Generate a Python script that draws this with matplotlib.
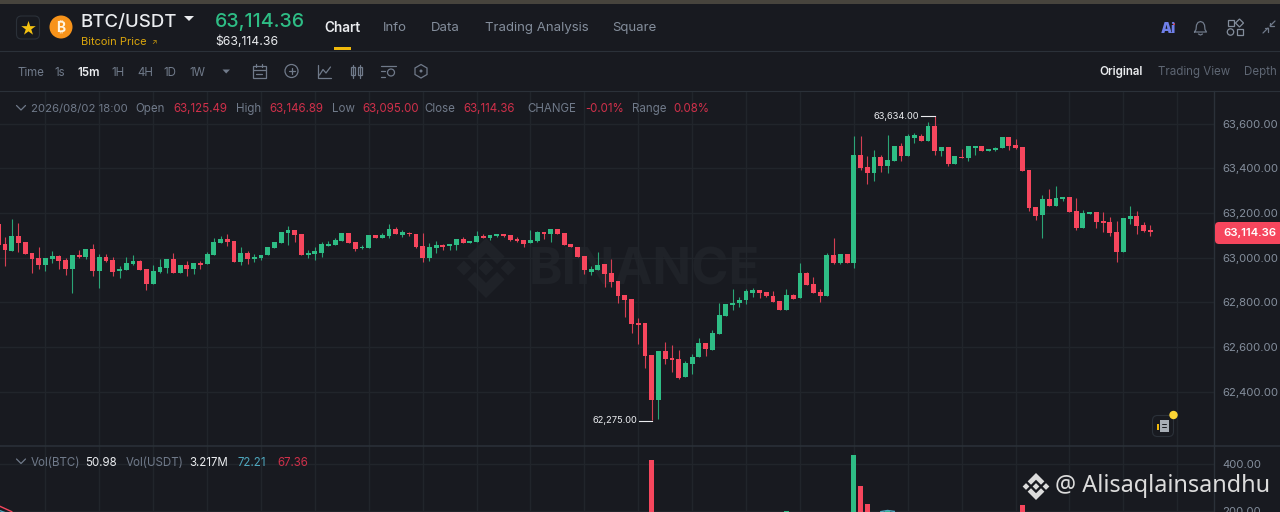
import matplotlib
matplotlib.use("Agg")
import matplotlib.pyplot as plt
import numpy as np
from matplotlib.patches import Circle, FancyBboxPatch, Polygon, Rectangle

plt.rcParams['font.family'] = ['Inter', 'DejaVu Sans']

# 15m candles, first one sits just off the left edge
opens = [63149, 63061, 63032, 63097, 63069, 63023, 63000, 62966, 62996, 63006,
         62991, 62948, 63011, 63003, 63037, 62942, 63002, 62988, 62939, 62945,
         62972, 62984, 62950, 62882, 62936, 62954, 62994, 62933, 62966, 62950,
         62975, 62970, 63014, 63064, 63084, 63075, 62982, 63020, 62994, 63000,
         63011, 63045, 63064, 63111, 63123, 63106, 63014, 63015, 63022, 63052,
         63057, 63076, 63110, 63069, 63042, 63045, 63100, 63087, 63097, 63127,
         63102, 63112, 63107, 63052, 63000, 63042, 63058, 63054, 63058, 63082,
         63067, 63072, 63099, 63088, 63096, 63105, 63103, 63084, 63079, 63064,
         63073, 63113, 63106, 63127, 63109, 63060, 63049, 63006, 62938, 62943,
         62970, 62933, 62897, 62833, 62817, 62706, 62706, 62565, 62363, 62581,
         62550, 62548, 62466, 62523, 62554, 62617, 62588, 62657, 62738, 62790,
         62796, 62809, 62844, 62854, 62848, 62830, 62806, 62766, 62835, 62818,
         62930, 62884, 62847, 62829, 63012, 62978, 63015, 62978, 63460, 63406,
         63380, 63452, 63410, 63433, 63498, 63456, 63537, 63546, 63522, 63591,
         63479, 63494, 63418, 63452, 63445, 63489, 63498, 63479, 63483, 63489,
         63539, 63506, 63494, 63391, 63228, 63190, 63263, 63231, 63264, 63273,
         63209, 63134, 63195, 63204, 63163, 63160, 63115, 63027, 63173, 63185,
         63146, 63125.49]
highs = [63170, 63094, 63175, 63157, 63069, 63023, 63049, 63000, 63032, 63011,
         63000, 63011, 63035, 63039, 63060, 63017, 63017, 63005, 62963, 63002,
         63011, 62990, 62950, 62969, 62996, 62994, 63023, 62966, 62987, 62975,
         62987, 63026, 63087, 63097, 63106, 63075, 63048, 63030, 63015, 63012,
         63049, 63069, 63115, 63140, 63123, 63106, 63036, 63046, 63072, 63075,
         63087, 63110, 63110, 63069, 63057, 63100, 63100, 63109, 63149, 63139,
         63124, 63113, 63107, 63109, 63064, 63075, 63061, 63061, 63082, 63091,
         63075, 63118, 63106, 63100, 63105, 63105, 63103, 63093, 63079, 63125,
         63118, 63116, 63127, 63127, 63109, 63060, 63049, 63006, 62963, 63027,
         62970, 62994, 62897, 62833, 62817, 62732, 62706, 62565, 62581, 62623,
         62608, 62587, 62539, 62571, 62639, 62620, 62676, 62796, 62794, 62861,
         62826, 62861, 62866, 62856, 62848, 62851, 62806, 62861, 62838, 62978,
         62936, 62912, 62858, 63020, 63088, 63017, 63015, 63546, 63546, 63456,
         63480, 63460, 63547, 63498, 63513, 63552, 63558, 63552, 63609, 63634,
         63494, 63494, 63454, 63485, 63498, 63498, 63498, 63488, 63495, 63539,
         63539, 63530, 63494, 63391, 63228, 63280, 63307, 63319, 63273, 63273,
         63269, 63212, 63204, 63204, 63204, 63182, 63166, 63176, 63230, 63209,
         63158, 63146.89]
lows = [63050, 62963, 63032, 63024, 63017, 62933, 62951, 62942, 62978, 62950,
        62923, 62842, 62997, 62993, 62920, 62866, 62981, 62918, 62911, 62945,
        62969, 62945, 62857, 62882, 62933, 62933, 62933, 62933, 62920, 62927,
        62948, 62970, 63014, 63064, 63052, 62982, 62969, 62972, 62979, 62990,
        63011, 63042, 63064, 63057, 63072, 63012, 62997, 62990, 63005, 63052,
        63057, 63076, 63064, 63031, 63039, 63045, 63087, 63087, 63087, 63106,
        63094, 63097, 63045, 62982, 62987, 63019, 63033, 63033, 63033, 63064,
        63064, 63069, 63087, 63078, 63094, 63094, 63076, 63072, 63048, 63064,
        63069, 63084, 63070, 63106, 63055, 63046, 63003, 62926, 62924, 62943,
        62870, 62867, 62799, 62736, 62663, 62615, 62506, 62275, 62278, 62523,
        62489, 62457, 62466, 62480, 62554, 62559, 62585, 62657, 62738, 62766,
        62778, 62793, 62823, 62820, 62825, 62802, 62766, 62766, 62814, 62818,
        62877, 62842, 62802, 62829, 62972, 62972, 62978, 62955, 63391, 63331,
        63345, 63385, 63377, 63433, 63433, 63456, 63513, 63522, 63522, 63461,
        63456, 63412, 63418, 63445, 63434, 63460, 63479, 63476, 63479, 63489,
        63482, 63486, 63386, 63207, 63169, 63090, 63231, 63231, 63254, 63204,
        63122, 63134, 63195, 63131, 63116, 63096, 62979, 63027, 63149, 63105,
        63113, 63095]
closes = [63057, 63033, 63097, 63064, 63017, 62996, 62967, 63000, 63006, 62985,
          62948, 63011, 63002, 63039, 62942, 63003, 62984, 62938, 62950, 62975,
          62984, 62945, 62882, 62942, 62957, 62994, 62933, 62966, 62950, 62975,
          62966, 63017, 63070, 63084, 63070, 62982, 63020, 62994, 63005, 63012,
          63049, 63069, 63115, 63123, 63102, 63012, 63021, 63030, 63060, 63063,
          63081, 63110, 63064, 63040, 63049, 63100, 63087, 63102, 63127, 63107,
          63113, 63105, 63048, 63000, 63046, 63058, 63049, 63061, 63082, 63067,
          63075, 63099, 63088, 63100, 63105, 63096, 63079, 63075, 63063, 63079,
          63113, 63105, 63127, 63106, 63055, 63046, 63003, 62945, 62949, 62967,
          62927, 62893, 62829, 62812, 62703, 62697, 62560, 62363, 62581, 62545,
          62541, 62463, 62529, 62557, 62617, 62590, 62662, 62742, 62791, 62799,
          62811, 62850, 62856, 62844, 62827, 62802, 62766, 62835, 62817, 62930,
          62879, 62842, 62829, 63012, 62976, 63015, 62978, 63460, 63400, 63380,
          63451, 63410, 63437, 63498, 63456, 63543, 63549, 63522, 63591, 63479,
          63494, 63418, 63454, 63445, 63498, 63498, 63479, 63488, 63492, 63539,
          63501, 63489, 63386, 63224, 63188, 63261, 63231, 63266, 63273, 63204,
          63134, 63201, 63204, 63160, 63155, 63110, 63027, 63176, 63185, 63142,
          63119, 63114.36]
first_index = -1

price_ticks = [62400, 62600, 62800, 63000, 63200, 63400, 63600]
volume_ticks = [200, 400]

# only these volume bars reach into the visible part of the lower panel
vol_index = [96, 116, 126, 127, 128, 131, 151]
vol_values = [417, 198, 437, 305, 228, 200, 223]
vol_up = [False, True, True, False, False, True, False]

ma_red_index = [-1, 1]
ma_red_values = [222, 196]
ma_teal_index = [-1, 0]
ma_teal_values = [203, 192]
ma_mid_index = [130, 131, 132]
ma_mid_values = [196, 201, 197]

high_label = '63,634.00'
low_label = '62,275.00'

BG = '#181a20'
GRID = '#21252b'
LINE = '#2b3139'
GREEN = '#2ebd85'
RED = '#f6465d'
DIMRED = '#cf304a'
GREY = '#707a8a'
TEXT = '#848e9c'
WHITE = '#eaecef'
YELLOW = '#f0b90b'

W, H = 1280, 512
fig = plt.figure(figsize=(W / 100, H / 100), dpi=100, facecolor=BG)


def px_axes(left, top, right, bottom, zorder):
    a = fig.add_axes([left / W, 1 - bottom / H, (right - left) / W, (bottom - top) / H], zorder=zorder)
    a.patch.set_alpha(0)
    return a


def binance_logo(a, cx, cy, r, color):
    small = [(-0.25, 0), (0, 0.25), (0.25, 0), (0, -0.25)]
    for dx in (-0.74, 0, 0.74):
        a.add_patch(Polygon([(cx + (x + dx) * r, cy + y * r) for x, y in small], fc=color, ec='none'))
    chevron = [(0, 1), (0.62, 0.38), (0.37, 0.13), (0, 0.5), (-0.37, 0.13), (-0.62, 0.38)]
    for s in (-1, 1):
        a.add_patch(Polygon([(cx + x * r, cy + s * y * r) for x, y in chevron], fc=color, ec='none'))


# background layer, the watermark sits under the candles
bg = px_axes(0, 0, W, H, 0)
bg.set_xlim(0, W)
bg.set_ylim(H, 0)
bg.axis('off')
binance_logo(bg, 486, 268, 30, '#1f2228')
bg.text(644, 271, 'BINANCE', color='#1f2228', fontsize=36.5, fontweight='bold', ha='center', va='center')

# x(i) = 5 + 6.737 * i in pixels
def idx_at(px):
    return (px - 5) / 6.737


x = np.arange(len(opens)) + first_index
opens = np.array(opens)
closes = np.array(closes)
up = closes >= opens
colors = np.where(up, GREEN, RED)

ax = px_axes(0, 91, 1214, 445.5, 1)
ax.set_xlim(idx_at(0), idx_at(1214))
ax.set_ylim(63000 + (257.7 - 445.5) / 0.2235, 63000 + (257.7 - 91) / 0.2235)
ax.vlines(x, lows, highs, colors=colors, linewidth=0.8, alpha=0.85, zorder=3)
ax.bar(x, np.maximum(np.abs(closes - opens), 3), bottom=np.minimum(opens, closes), width=0.72, color=colors, zorder=4)
ax.set_yticks(price_ticks)
ax.set_yticklabels([f'{p:,.2f}' for p in price_ticks])
grid_idx = np.arange(6, 180, 8)
ax.set_xticks(grid_idx)
ax.tick_params(axis='x', length=0, labelbottom=False)
ax.tick_params(axis='y', length=0, right=True, left=False, labelright=True, labelleft=False,
               labelcolor=TEXT, labelsize=8.2, pad=6)
ax.grid(True, color=GRID, linewidth=1, zorder=0)
ax.set_axisbelow(True)
for s in ('top', 'left', 'bottom'):
    ax.spines[s].set_visible(False)
ax.spines['right'].set_color(LINE)
ax.spines['right'].set_linewidth(1)

# high / low markers, the low one is set a pixel lower like the picture
hi = highs.index(63634)
lo = lows.index(62275)
low_mark = 62275 - 4
ax.plot([x[hi] - 2, x[hi]], [63634, 63634], color=WHITE, lw=0.8, zorder=5)
ax.plot([x[lo] - 1.9, x[lo]], [low_mark, low_mark], color=WHITE, lw=0.8, zorder=5)
ax.text(x[hi] - 2.3, 63634, high_label, color=WHITE, fontsize=6.7, ha='right', va='center', zorder=5)
ax.text(x[lo] - 2.2, low_mark, low_label, color=WHITE, fontsize=6.7, ha='right', va='center', zorder=5)

# volume panel, cut off by the bottom of the picture
vol = px_axes(0, 445.5, 1214, H, 1)
vol.set_xlim(idx_at(0), idx_at(1214))
vol.set_ylim(400 - (512 - 463.7) / 0.235, 400 + (463.7 - 445.5) / 0.235)
vol.bar(vol_index, vol_values, width=0.72, color=[GREEN if u else RED for u in vol_up], zorder=4)
vol.plot(ma_red_index, ma_red_values, color=RED, lw=1, zorder=5)
vol.plot(ma_teal_index, ma_teal_values, color='#4ea6bd', lw=1, zorder=5)
vol.plot(ma_mid_index, ma_mid_values, color='#4ea6bd', lw=1, zorder=5)
vol.set_yticks(volume_ticks)
vol.set_yticklabels([f'{v:.2f}' for v in volume_ticks])
vol.set_xticks(grid_idx)
vol.tick_params(axis='x', length=0, labelbottom=False)
vol.tick_params(axis='y', length=0, right=True, left=False, labelright=True, labelleft=False,
                labelcolor=TEXT, labelsize=8.2, pad=6)
vol.grid(True, color=GRID, linewidth=1, zorder=0)
vol.set_axisbelow(True)
for s in ('top', 'left', 'bottom'):
    vol.spines[s].set_visible(False)
vol.spines['right'].set_color(LINE)
vol.spines['right'].set_linewidth(1)

# header, toolbar, legend lines and the overlays
ui = px_axes(0, 0, W, H, 5)
ui.set_xlim(0, W)
ui.set_ylim(H, 0)
ui.axis('off')


def label(px, py, s, color=GREY, size=8.3, weight='normal', ha='left', **kw):
    ui.text(px, py, s, color=color, fontsize=size, fontweight=weight, ha=ha, va='center', **kw)


def stroke(xs, ys, color=GREY, lw=0.9):
    ui.plot(xs, ys, color=color, lw=lw, solid_capstyle='round')


ui.add_patch(Rectangle((0, 0), W, 4, fc='#47443d', ec='none'))
ui.plot([0, W], [50.5, 50.5], color=LINE, lw=0.8)
ui.plot([0, W], [90.5, 90.5], color=LINE, lw=0.8)
ui.plot([0, 1280], [445.5, 445.5], color=LINE, lw=1.1)

# left side of the header
ui.add_patch(FancyBboxPatch((16.5, 16), 23, 23, boxstyle='round,pad=0,rounding_size=5', fc='none', ec=LINE, lw=0.8))
ui.scatter([28], [27.5], marker='*', s=120, color='#f5c211', linewidths=0)
ui.add_patch(Circle((61, 27), 11.5, fc='#f7931a', ec='none'))
label(61, 27.5, '₿', color='#fff4df', size=10, weight='bold', ha='center')
label(81, 22.5, 'BTC/USDT', color=WHITE, size=13.4, weight='medium')
ui.add_patch(Polygon([(184, 16), (194, 16), (189, 21)], fc=WHITE, ec='none'))
label(81, 42, 'Bitcoin Price', color='#d9a50d', size=7.95)
label(151, 42, '↗', color='#d9a50d', size=5)
label(215, 22, '63,114.36', color=GREEN, size=14.1, weight='medium')
label(215, 41.5, '$63,114.36', color=WHITE, size=8.8)

label(324, 28, 'Chart', color=WHITE, size=9.8, weight='semibold')
ui.add_patch(Rectangle((333.5, 47), 17, 2.5, fc=YELLOW, ec='none'))
for tx, ts in zip([383, 431, 485, 612], ['Info', 'Data', 'Trading Analysis', 'Square']):
    label(tx, 28, ts, color=TEXT, size=9.5)

# right side of the header
label(1168, 29, 'Ai', color='#6f7fe8', size=10, weight='black', ha='center')
ui.add_patch(Circle((1174, 24), 1, fc=RED, ec='none'))
stroke([1194.5, 1196, 1196.5, 1198, 1200.5, 1203, 1204.5, 1205, 1206.5, 1194.5],
       [32, 29.5, 25, 22.5, 21.5, 22.5, 25, 29.5, 32, 32])
stroke([1198.5, 1200.5, 1202.5], [34, 35, 34])
ui.add_patch(Rectangle((1227.5, 20), 6, 6, fc='none', ec=TEXT, lw=0.9))
ui.add_patch(Polygon([(1239.5, 19), (1243.5, 23), (1239.5, 27), (1235.5, 23)], fc='none', ec=TEXT, lw=0.9))
ui.add_patch(Circle((1230.5, 32), 3.2, fc='none', ec=TEXT, lw=0.9))
ui.add_patch(Rectangle((1236.5, 29), 6, 6, fc='none', ec=TEXT, lw=0.9))
stroke([1263, 1268], [33, 28])
stroke([1264.5, 1268, 1268], [28, 28, 31.5])
stroke([1270, 1275], [26, 21])
stroke([1270, 1270, 1273.5], [22.5, 26, 26])

# toolbar
for tx, ts in zip([17, 54, 111, 137, 163, 189], ['Time', '1s', '1H', '4H', '1D', '1W']):
    label(tx, 72.5, ts)
label(77, 72.5, '15m', color=WHITE, weight='semibold')
ui.add_patch(Polygon([(222.5, 69.5), (230, 69.5), (226.2, 73.5)], fc=GREY, ec='none'))
ui.add_patch(Rectangle((252.5, 65.5), 13, 12.5, fc='none', ec=GREY, lw=0.9))
stroke([252.5, 265.5], [69.5, 69.5])
stroke([256, 256], [64, 66.5])
stroke([262, 262], [64, 66.5])
stroke([256, 262], [73.5, 73.5])
ui.add_patch(Circle((291.5, 71), 6.5, fc='none', ec=GREY, lw=0.9))
stroke([288.5, 294.5], [71, 71])
stroke([291.5, 291.5], [68, 74])
stroke([317.5, 317.5, 331], [64.5, 78, 78])
stroke([319.5, 323, 326, 330.5], [75, 69.5, 73, 67])
for cx in (352.5, 359.5):
    ui.add_patch(Rectangle((cx - 2, 67), 4, 8, fc='none', ec=GREY, lw=0.9))
    stroke([cx, cx], [64.5, 78])
stroke([381, 396], [65.5, 65.5])
stroke([381, 385], [71, 71])
stroke([381, 385], [76.5, 76.5])
ui.add_patch(Circle((391, 72.5), 3.5, fc='none', ec=GREY, lw=0.9))
ui.add_patch(Polygon([(421, 64.5), (427, 68), (427, 74.5), (421, 78), (415, 74.5), (415, 68)], fc='none', ec=GREY, lw=0.9))
ui.add_patch(Circle((421, 71), 1.5, fc=GREY, ec='none'))
label(1099, 72.5, 'Original', color=WHITE, weight='semibold')
label(1158, 72.5, 'Trading View', color='#5e6673')
label(1244, 72.5, 'Depth', color='#5e6673')

# ohlc legend row
stroke([16.5, 21, 25.5], [105.5, 110, 105.5])
label(31, 109, '2026/08/02 18:00', size=8.2)
for tx, ts in zip([135, 236, 332, 424, 527, 632], ['Open', 'High', 'Low', 'Close', 'CHANGE', 'Range']):
    label(tx, 109, ts)
for tx, ts in zip([173, 269, 362, 463, 585, 673], ['63,125.49', '63,146.89', '63,095.00', '63,114.36', '-0.01%', '0.08%']):
    label(tx, 109, ts, color=DIMRED)

# volume legend row
stroke([16.5, 21, 25.5], [459, 463.5, 459])
label(31, 463, 'Vol(BTC)')
label(85, 463, '50.98', color=WHITE)
label(125.5, 463, 'Vol(USDT)')
label(189, 463, '3.217M', color=WHITE)
label(238, 463, '72.21', color='#4ea6bd')
label(277, 463, '67.36', color=DIMRED)

# last price tag
ui.add_patch(FancyBboxPatch((1215, 222), 68, 22, boxstyle='round,pad=0,rounding_size=4', fc=RED, ec='none'))
label(1223, 233, '63,114.36', color='white', size=8.2, weight='semibold')

# news button
ui.add_patch(FancyBboxPatch((1152.5, 415.5), 21, 21, boxstyle='round,pad=0,rounding_size=5', fc=BG, ec=LINE, lw=0.8))
ui.add_patch(Rectangle((1160, 420), 8.5, 11.5, fc='#a7adb5', ec='none'))
ui.add_patch(Rectangle((1157, 424), 2, 6, fc=YELLOW, ec='none'))
stroke([1162, 1166], [424, 424], color=BG, lw=0.7)
stroke([1162, 1166], [427, 427], color=BG, lw=0.7)
ui.add_patch(Circle((1173.5, 415), 4.2, fc='#fcd535', ec='none'))

# credit watermark
binance_logo(ui, 1036, 486.5, 13.5, '#dcdcdc')
ui.text(1055, 486.5, '@ Alisaqlainsandhu', color='#dcdcdc', fontsize=16.9, family=['Noto Sans', 'DejaVu Sans'],
        ha='left', va='center')

fig.savefig('out.png', dpi=100, facecolor=BG)
